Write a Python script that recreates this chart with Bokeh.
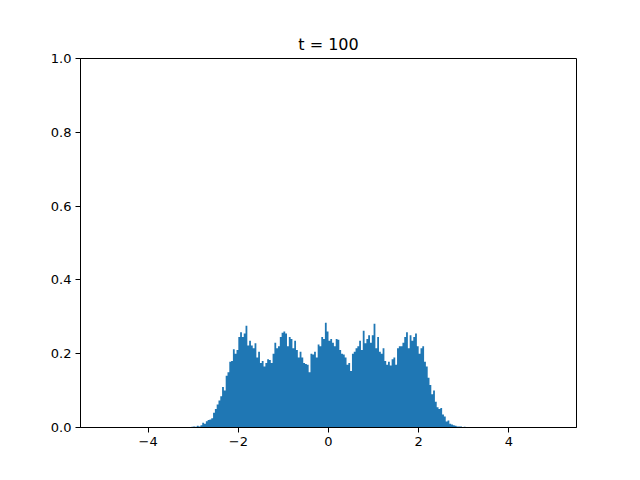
import numpy as np
from bokeh.plotting import figure
from bokeh.models import Range1d, FixedTicker
from bokeh.embed import file_html
from bokeh.resources import INLINE

title_text = "t = 100"
bin_start = -3.2
bin_width = 0.04
density = [
    0.000, 0.000, 0.000, 0.001, 0.002, 0.003, 0.002, 0.005, 0.003, 0.006,
    0.013, 0.010, 0.017, 0.020, 0.022, 0.025, 0.040, 0.050, 0.062, 0.073,
    0.085, 0.110, 0.100, 0.140, 0.150, 0.178, 0.180, 0.212, 0.200, 0.210,
    0.245, 0.258, 0.245, 0.255, 0.276, 0.222, 0.235, 0.222, 0.215, 0.228,
    0.190, 0.205, 0.175, 0.180, 0.165, 0.175, 0.185, 0.183, 0.175, 0.200,
    0.230, 0.215, 0.220, 0.245, 0.257, 0.260, 0.255, 0.220, 0.245, 0.240,
    0.215, 0.235, 0.210, 0.190, 0.205, 0.190, 0.175, 0.172, 0.170, 0.150,
    0.200, 0.198, 0.205, 0.190, 0.225, 0.220, 0.245, 0.240, 0.284, 0.260,
    0.235, 0.240, 0.230, 0.220, 0.240, 0.238, 0.210, 0.200, 0.198, 0.190,
    0.170, 0.175, 0.153, 0.200, 0.205, 0.215, 0.220, 0.235, 0.210, 0.262,
    0.228, 0.240, 0.250, 0.230, 0.250, 0.281, 0.215, 0.245, 0.205, 0.200,
    0.215, 0.180, 0.170, 0.178, 0.168, 0.185, 0.190, 0.170, 0.215, 0.220,
    0.220, 0.230, 0.245, 0.258, 0.215, 0.250, 0.235, 0.245, 0.255, 0.220,
    0.200, 0.215, 0.220, 0.178, 0.165, 0.135, 0.115, 0.090, 0.100, 0.070,
    0.055, 0.050, 0.053, 0.035, 0.030, 0.016, 0.019, 0.010, 0.008, 0.006,
    0.005, 0.003, 0.003, 0.003, 0.001, 0.002, 0.001, 0.000, 0.000, 0.000,
]
x_ticks = [-4, -2, 0, 2, 4]
x_tick_labels = ["\u22124", "\u22122", "0", "2", "4"]
y_ticks = [0.0, 0.2, 0.4, 0.6, 0.8, 1.0]
y_tick_labels = ["0.0", "0.2", "0.4", "0.6", "0.8", "1.0"]

n = len(density)
edges = bin_start + bin_width * np.arange(n + 1)
heights = list(density) + [0.0]

p = figure(
    frame_width=496, frame_height=369,
    min_border_left=80, min_border_right=60, min_border_top=58, min_border_bottom=50,
    x_range=Range1d(-5.5, 5.5), y_range=Range1d(0, 1),
    output_backend="svg", toolbar_location=None,
    title=title_text,
)
p.varea_step(x=edges, y1=[0.0] * (n + 1), y2=heights, step_mode="after",
             fill_color="#1f77b4")

p.title.align = "center"
p.title.text_font = "DejaVu Sans"
p.title.text_font_size = "16px"
p.title.text_font_style = "normal"
p.title.text_color = "black"

p.xgrid.visible = False
p.ygrid.visible = False
p.outline_line_color = "black"
p.outline_line_width = 1
p.outline_line_alpha = 1
p.background_fill_color = "white"
p.border_fill_color = "white"

p.xaxis.ticker = FixedTicker(ticks=x_ticks)
p.xaxis.major_label_overrides = {t: l for t, l in zip(x_ticks, x_tick_labels)}
p.yaxis.ticker = FixedTicker(ticks=y_ticks)
p.yaxis.major_label_overrides = {t: l for t, l in zip(y_ticks, y_tick_labels)}
for ax in (p.xaxis, p.yaxis):
    ax.minor_tick_line_color = None
    ax.major_tick_in = 0
    ax.major_tick_out = 5
    ax.major_tick_line_color = "black"
    ax.axis_line_color = "black"
    ax.major_label_text_font = "DejaVu Sans"
    ax.major_label_text_font_size = "13px"
    ax.major_label_text_color = "black"
    ax.major_label_standoff = 4

open("out.html", "w").write(file_html(p, INLINE))
